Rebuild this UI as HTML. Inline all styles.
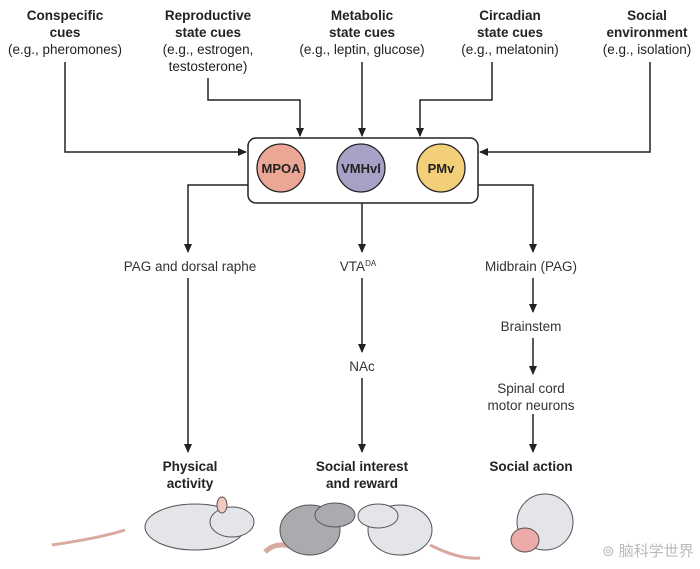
<!DOCTYPE html>
<html><head><meta charset="utf-8"><style>
body{margin:0;background:#fff}
svg{display:block}
text{font-family:"Liberation Sans",sans-serif;font-size:13.5px;fill:#222}
.b{font-weight:bold;font-size:13.5px}
.g{fill:#333}
</style></head><body>
<svg width="700" height="569" viewBox="0 0 700 569">
<defs><marker id="a" markerWidth="10" markerHeight="10" refX="8" refY="4" orient="auto" markerUnits="userSpaceOnUse"><path d="M0,0 L9,4 L0,8 z" fill="#222"/></marker></defs>
<g text-anchor="middle">
<text x="65" y="20" class="b">Conspecific</text><text x="65" y="37" class="b">cues</text><text x="65" y="54">(e.g., pheromones)</text>
<text x="208" y="20" class="b">Reproductive</text><text x="208" y="37" class="b">state cues</text><text x="208" y="54">(e.g., estrogen,</text><text x="208" y="71">testosterone)</text>
<text x="362" y="20" class="b">Metabolic</text><text x="362" y="37" class="b">state cues</text><text x="362" y="54">(e.g., leptin, glucose)</text>
<text x="510" y="20" class="b">Circadian</text><text x="510" y="37" class="b">state cues</text><text x="510" y="54">(e.g., melatonin)</text>
<text x="647" y="20" class="b">Social</text><text x="647" y="37" class="b">environment</text><text x="647" y="54">(e.g., isolation)</text>
</g>
<g stroke="#222" stroke-width="1.5" fill="none">
<path d="M65,62 V152 H246" marker-end="url(#a)"/>
<path d="M208,78 V100 H300 V136" marker-end="url(#a)"/>
<path d="M362,62 V136" marker-end="url(#a)"/>
<path d="M492,62 V100 H420 V136" marker-end="url(#a)"/>
<path d="M650,62 V152 H480" marker-end="url(#a)"/>
<path d="M248,185 H188 V252" marker-end="url(#a)"/>
<path d="M478,185 H533 V252" marker-end="url(#a)"/>
<path d="M362,203 V252" marker-end="url(#a)"/>
<path d="M188,278 V452" marker-end="url(#a)"/>
<path d="M362,278 V352" marker-end="url(#a)"/>
<path d="M362,378 V452" marker-end="url(#a)"/>
<path d="M533,278 V312" marker-end="url(#a)"/>
<path d="M533,338 V374" marker-end="url(#a)"/>
<path d="M533,414 V452" marker-end="url(#a)"/>
</g>
<rect x="248" y="138" width="230" height="65" rx="8" fill="#fff" stroke="#222" stroke-width="1.5"/>
<circle cx="281" cy="168" r="24" fill="#eba694" stroke="#222" stroke-width="1.3"/>
<circle cx="361" cy="168" r="24" fill="#a7a1c6" stroke="#222" stroke-width="1.3"/>
<circle cx="441" cy="168" r="24" fill="#f4cf7a" stroke="#222" stroke-width="1.3"/>
<g text-anchor="middle">
<text x="281" y="173" class="b" style="font-size:13px">MPOA</text>
<text x="361" y="173" class="b" style="font-size:13px">VMHvl</text>
<text x="441" y="173" class="b" style="font-size:13px">PMv</text>
<text x="190" y="271" class="g">PAG and dorsal raphe</text>
<text x="358" y="271" class="g">VTA<tspan font-size="8" dy="-5">DA</tspan></text>
<text x="531" y="271" class="g">Midbrain (PAG)</text>
<text x="531" y="331" class="g">Brainstem</text>
<text x="531" y="393" class="g">Spinal cord</text>
<text x="531" y="410" class="g">motor neurons</text>
<text x="362" y="371" class="g">NAc</text>
<text x="190" y="471" class="b">Physical</text><text x="190" y="488" class="b">activity</text>
<text x="362" y="471" class="b">Social interest</text><text x="362" y="488" class="b">and reward</text>
<text x="531" y="471" class="b">Social action</text>
</g>
<g stroke="#555" stroke-width="1">
<path d="M52,545 Q100,538 125,530" stroke="#d9a9a0" stroke-width="3" fill="none"/>
<ellipse cx="195" cy="527" rx="50" ry="23" fill="#e3e5e8"/>
<ellipse cx="232" cy="522" rx="22" ry="15" fill="#e3e5e8"/>
<ellipse cx="222" cy="505" rx="5" ry="8" fill="#f2c8bf"/>
<path d="M265,552 Q275,542 290,546" stroke="#d9a9a0" stroke-width="5" fill="none"/>
<ellipse cx="310" cy="530" rx="30" ry="25" fill="#a9abae"/>
<ellipse cx="335" cy="515" rx="20" ry="12" fill="#a9abae"/>
<ellipse cx="400" cy="530" rx="32" ry="25" fill="#e3e5e8"/>
<ellipse cx="378" cy="516" rx="20" ry="12" fill="#e3e5e8"/>
<path d="M430,545 Q460,560 480,558" stroke="#d9a9a0" stroke-width="3" fill="none"/>
<ellipse cx="545" cy="522" rx="28" ry="28" fill="#e3e5e8"/>
<ellipse cx="525" cy="540" rx="14" ry="12" fill="#ecaaa8"/>
</g>
<text x="602" y="556" style="font-family:'Liberation Sans','Noto Sans CJK SC',sans-serif;font-size:15px;fill:#bbb">⊚ 脑科学世界</text>
</svg>
</body></html>
